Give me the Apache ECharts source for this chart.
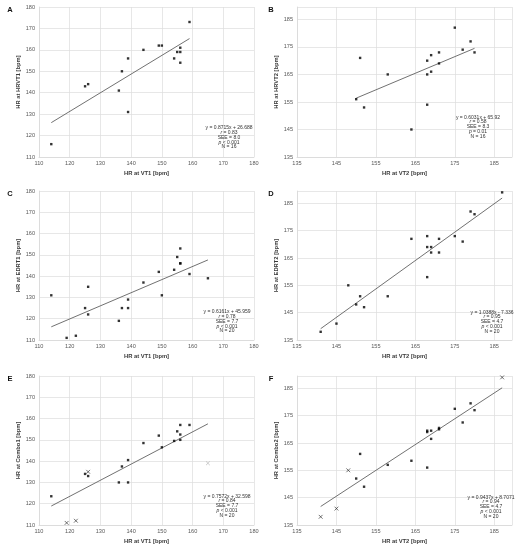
<!DOCTYPE html>
<html><head><meta charset="utf-8">
<script src="https://cdn.jsdelivr.net/npm/echarts@6/dist/echarts.min.js"></script>
<style>html,body{margin:0;padding:0;background:#fff}#c{width:517px;height:550px}</style>
</head><body><div id="c"></div>
<script>
// ---------- DATA ----------
const panelLetters = ['A','B','C','D','E','F'];
const xTitles = ['HR at VT1 [bpm]','HR at VT2 [bpm]','HR at VT1 [bpm]','HR at VT2 [bpm]','HR at VT1 [bpm]','HR at VT2 [bpm]'];
const yTitles = ['HR at HRVT1 [bpm]','HR at HRVT2 [bpm]','HR at EDRT1 [bpm]','HR at EDRT2 [bpm]','HR at Combo1 [bpm]','HR at Combo2 [bpm]'];

// tick ranges
const axisMinA = 110, axisMaxA = 180;   // VT1 panels
const axisMinB = 135, axisMaxB = 189.5; // VT2 panels
const tickStep = 10;

// Panel A
const aX = [114,125,126,136,137,139,139,144,149,150,154,155,156,156,156,159];
const aY = [116,143,144,141,150,156,131,160,162,162,156,159,161,159,154,173];
const aMark = ['s','s','s','s','s','s','s','s','s','s','s','s','s','s','s','s'];
// Panel B
const bX = [150,151,152,158,164,168,168,168,169,169,171,171,175,177,179,180];
const bY = [156,171,153,165,145,170,165,154,172,166,173,169,182,174,177,173];
const bMark = ['s','s','s','s','s','s','s','s','s','s','s','s','s','s','s','s'];
// Panel C
const cX = [114,119,122,125,126,126,136,137,139,139,144,149,150,154,155,156,156,156,159,165];
const cY = [131,111,112,125,135,122,119,125,129,125,137,142,131,143,149,153,146,146,141,139];
const cMark = ['s','s','s','s','s','s','s','s','s','s','s','s','s','s','s','s','s','s','s','s'];
// Panel D
const dX = [141,145,148,150,151,152,158,164,168,168,168,169,169,171,171,175,177,179,180,187];
const dY = [138,141,155,148,151,147,151,172,173,169,158,167,169,172,167,173,171,182,181,189];
const dMark = ['s','s','s','s','s','s','s','s','s','s','s','s','s','s','s','s','s','s','s','s'];
// Panel E
const eX = [114,119,122,125,126,126,136,137,139,139,144,149,150,154,155,156,156,156,159,165];
const eY = [123.5,111,112,134,135,133,130,137.5,140.5,130,148.5,152,146.5,149.5,154,157,152.5,150,157,139];
const eMark = ['s','x','x','s','x','s','s','s','s','s','s','s','s','s','s','s','s','s','s','g'];
// Panel F
const fX = [141,145,148,150,151,152,158,164,168,168,168,169,169,171,171,175,177,179,180,187];
const fY = [138,141,155,152,161,149,157,158.5,169.5,169,156,169.5,166.5,170.5,170,177.5,172.5,179.5,177,189];
const fMark = ['x','x','x','s','s','s','s','s','s','s','s','s','s','s','s','s','s','s','s','x'];

// regression statistics
const slopes     = [0.8715, 0.6031, 0.6161, 1.0388, 0.7572, 0.9437];
const intercepts = [26.688, 65.92, 45.959, -7.336, 32.598, 8.7071];
const rVals   = ['0.83','0.58','0.78','0.95','0.84','0.94'];
const seeVals = ['8.0','8.3','7.7','4.7','7.7','4.7'];
const pVals   = ['< 0.001','= 0.01','< 0.001','< 0.001','< 0.001','< 0.001'];
const nVals   = ['16','16','20','20','20','20'];

// ---------- LAYOUT ----------
const FONT = 'Liberation Sans, Arial, sans-serif';
const colLeft = [39, 297];
const rowTop = [7, 191, 376];
const gridW = 215, gridH = 150;
const noteCX = [229, 478, 227, 492, 227, 491];
const noteY0 = [128, 117.3, 312, 312.3, 496.3, 497.3];
const noteStep = 4.75;
const noteFont = 5.0;

const xs = [aX,bX,cX,dX,eX,fX];
const ys = [aY,bY,cY,dY,eY,fY];
const marks = [aMark,bMark,cMark,dMark,eMark,fMark];

const grids = [], xAxes = [], yAxes = [], series = [], graphics = [];
const crossPath = 'path://M0,0L10,10M10,0L0,10';

for (let i = 0; i < 6; i++) {
  const col = i % 2, row = Math.floor(i / 2);
  const isB = col === 1;
  const mn = isB ? axisMinB : axisMinA, mx = isB ? axisMaxB : axisMaxA;
  grids.push({left: colLeft[col], top: rowTop[row], width: gridW, height: gridH - (row ? 1 : 0)});
  const axisCommon = {
    type: 'value', gridIndex: i, min: mn, max: mx, interval: tickStep,
    nameLocation: 'middle',
    nameTextStyle: {fontSize: 5.8, fontWeight: 'bold', color: '#3a3a3a', fontFamily: FONT},
    axisLine: {show: true, lineStyle: {color: '#d9d9d9', width: 0.8}},
    axisTick: {show: false},
    splitLine: {show: true, lineStyle: {color: '#dcdcdc', width: 0.7}},
  };
  xAxes.push(Object.assign({}, axisCommon, {
    name: xTitles[i], nameGap: 13.5,
    axisLabel: {fontSize: 5.6, color: '#595959', fontFamily: FONT, margin: 3.5, showMaxLabel: !isB}
  }));
  yAxes.push(Object.assign({}, axisCommon, {
    name: yTitles[i], nameGap: 15,
    axisLabel: {fontSize: 5.6, color: '#595959', fontFamily: FONT, margin: 4, showMaxLabel: !isB}
  }));

  const sq = [], cr = [], gr = [];
  for (let k = 0; k < xs[i].length; k++) {
    const p = [xs[i][k], ys[i][k]];
    if (marks[i][k] === 'x') cr.push(p); else if (marks[i][k] === 'g') gr.push(p); else sq.push(p);
  }
  const x0 = Math.min(...xs[i]), x1 = Math.max(...xs[i]);
  series.push({
    type: 'line', xAxisIndex: i, yAxisIndex: i, symbol: 'none', silent: true,
    data: [[x0, slopes[i]*x0 + intercepts[i]], [x1, slopes[i]*x1 + intercepts[i]]],
    lineStyle: {color: '#616161', width: 0.9}, z: 2
  });
  series.push({
    type: 'scatter', xAxisIndex: i, yAxisIndex: i, symbol: 'rect', symbolSize: 2.4,
    data: sq, itemStyle: {color: '#000'}, z: 3
  });
  if (cr.length) series.push({
    type: 'scatter', xAxisIndex: i, yAxisIndex: i, symbol: crossPath, symbolSize: 3.8,
    data: cr, itemStyle: {color: 'none', borderColor: '#222', borderWidth: 0.8}, z: 3
  });
  if (gr.length) series.push({
    type: 'scatter', xAxisIndex: i, yAxisIndex: i, symbol: crossPath, symbolSize: 3.8,
    data: gr, itemStyle: {color: 'none', borderColor: '#b0b0b0', borderWidth: 0.8}, z: 3
  });

  // panel letter
  graphics.push({
    type: 'text', x: col ? 271 : 10, y: rowTop[row] - 1,
    style: {text: panelLetters[i], fontSize: 7.5, fontWeight: 'bold', fontFamily: FONT, fill: '#111',
            align: 'center', verticalAlign: 'top', textAlign: 'center', textVerticalAlign: 'top'}
  });
  // statistics note, one text element per line
  const b = intercepts[i];
  const eq = 'y = ' + slopes[i] + 'x ' + (b < 0 ? '- ' : '+ ') + Math.abs(b);
  const lines = [eq, '{i|r} = ' + rVals[i], 'SEE = ' + seeVals[i], '{i|p} ' + pVals[i], 'N = ' + nVals[i]];
  lines.forEach((ln, k) => {
    graphics.push({
      type: 'text', x: noteCX[i], y: noteY0[i] + k * noteStep, z: 10,
      style: {
        text: ln, fontSize: noteFont, fontFamily: FONT, fill: '#333',
        align: 'center', verticalAlign: 'middle', textAlign: 'center', textVerticalAlign: 'middle',
        rich: {i: {fontStyle: 'italic', fontSize: noteFont, fontFamily: FONT, fill: '#333'}}
      }
    });
  });
}

const chart = echarts.init(document.getElementById('c'), null, {renderer: 'canvas'});
chart.setOption({
  animation: false,
  backgroundColor: '#fff',
  grid: grids, xAxis: xAxes, yAxis: yAxes, series: series, graphic: graphics
});
</script>
</body></html>
